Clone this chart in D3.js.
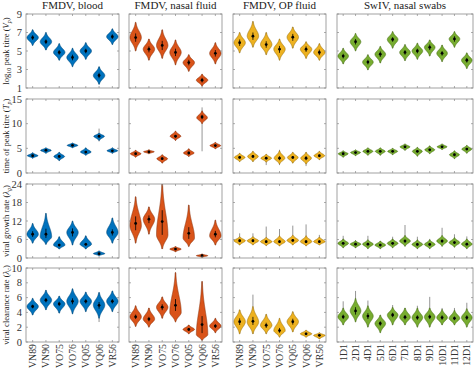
<!DOCTYPE html>
<html><head><meta charset="utf-8">
<script src="https://cdn.jsdelivr.net/npm/d3@7/dist/d3.min.js"></script>
<style>body{margin:0;background:#fff}svg{display:block}text{font-family:"Liberation Serif","Times New Roman",serif}</style>
</head><body><svg id="c" width="474" height="368"></svg>
<script>
// ---- data ----
const groups = ["FMDV, blood", "FMDV, nasal fluid", "FMDV, OP fluid", "SwIV, nasal swabs"];
const catsFMDV = ["VN89","VN90","VO75","VO76","VQ05","VQ06","VR56"];
const catsSwIV = ["1D1","2D1","4D1","5D1","6D1","7D1","8D1","9D1","10D1","11D1","12D1"];
const groupCats = [catsFMDV, catsFMDV, catsFMDV, catsSwIV];
const groupColors = ["#0072BD", "#D95319", "#EDB120", "#77AC30"];

// each violin: [tailLo, bodyLo, q1, median, q3, bodyHi, tailHi, (peak)]
const peakTitre = [
 [[5.6,5.6,6.2,6.45,6.7,7.3,7.3],[5.1,5.1,5.75,6.0,6.25,7.0,7.0],[4.0,4.0,4.6,4.85,5.1,5.8,5.8],[3.3,3.3,4.0,4.3,4.6,5.3,5.3],[4.1,4.1,4.75,5.0,5.25,5.9,5.9],[1.4,1.4,2.05,2.35,2.65,3.3,3.3],[5.7,5.7,6.3,6.55,6.8,7.4,7.4]],
 [[5.0,5.0,6.0,6.45,6.9,8.1,8.1],[4.0,4.0,4.85,5.2,5.5,6.3,6.3],[4.2,4.2,5.1,5.6,6.1,7.3,7.3],[3.5,3.5,4.45,4.85,5.25,6.2,6.2],[2.8,2.8,3.45,3.75,4.05,4.6,4.6],[1.2,1.2,1.6,1.85,2.1,2.5,2.5],[3.6,3.6,4.4,4.75,5.1,5.9,5.9]],
 [[4.8,4.8,5.55,5.9,6.25,7.0,7.0],[5.4,5.4,6.2,6.6,7.0,8.2,8.2],[4.6,4.6,5.35,5.7,6.05,7.0,7.0],[4.0,4.0,4.8,5.2,5.55,6.3,6.3],[5.3,5.3,6.1,6.5,6.85,7.6,7.6],[4.2,4.2,4.9,5.2,5.5,6.0,6.0],[4.0,4.0,4.55,4.85,5.15,5.8,5.8]],
 [[3.6,3.6,4.2,4.45,4.7,5.3,5.3],[5.0,5.0,5.7,6.0,6.3,6.9,6.9],[2.95,2.95,3.55,3.8,4.05,4.6,4.6],[3.7,3.7,4.35,4.65,4.95,5.5,5.5],[5.3,5.3,6.0,6.25,6.5,7.1,7.1],[3.95,3.95,4.6,4.85,5.1,5.7,5.7],[4.1,4.1,4.75,5.0,5.25,5.85,5.85],[4.45,4.45,5.1,5.4,5.7,6.2,6.2],[3.85,3.85,4.5,4.75,5.0,5.65,5.65],[5.4,5.4,6.0,6.3,6.6,7.1,7.1],[3.1,3.1,3.75,4.0,4.25,4.8,4.8]]
];
const peakTime = [
 [[3.0,3.0,3.35,3.5,3.7,4.1,4.1],[4.0,4.0,4.45,4.6,4.75,5.1,5.1],[2.5,2.5,3.1,3.35,3.6,4.2,4.2],[5.1,5.1,5.45,5.6,5.75,6.1,6.1],[3.6,3.6,4.05,4.25,4.45,5.1,5.1],[6.4,6.6,7.2,7.45,7.7,8.1,9.0],[4.0,4.0,4.35,4.5,4.65,5.1,5.1]],
 [[3.2,3.2,3.7,3.9,4.1,4.6,4.6],[3.9,3.9,4.2,4.3,4.4,4.7,4.7],[2.0,2.0,2.65,2.9,3.15,3.7,3.7],[6.6,6.6,7.2,7.45,7.7,8.5,8.5],[3.35,3.35,3.8,4.05,4.3,4.9,4.9],[4.4,10.0,10.9,11.35,11.8,12.6,13.3,11.2],[4.9,4.9,5.35,5.55,5.75,6.2,6.2]],
 [[2.3,2.3,2.9,3.15,3.4,4.0,4.0],[2.3,2.3,3.05,3.35,3.65,4.4,4.4],[1.6,2.2,2.75,3.0,3.25,3.8,3.8],[1.6,1.8,2.6,3.0,3.4,4.5,4.7],[2.0,2.0,2.85,3.15,3.45,4.2,4.2],[1.4,1.8,2.6,3.0,3.4,4.2,4.2],[2.7,2.7,3.3,3.5,3.7,4.4,4.4]],
 [[3.2,3.2,3.7,3.9,4.1,4.5,4.5],[3.5,3.5,4.0,4.15,4.3,4.7,4.7],[3.6,3.6,4.2,4.4,4.6,5.1,5.1],[3.6,3.6,4.2,4.4,4.6,5.1,5.1],[3.7,3.7,4.2,4.4,4.6,5.0,5.0],[4.6,4.6,5.1,5.3,5.5,5.9,5.9],[3.4,3.4,4.15,4.4,4.65,5.2,5.2],[3.9,3.9,4.5,4.7,4.9,5.5,5.5],[4.75,4.75,5.15,5.3,5.45,5.9,5.9],[2.9,2.9,3.5,3.7,3.9,4.5,4.5],[4.0,4.0,4.65,4.85,5.05,5.6,5.6]]
];
const growthRate = [
 [[4.8,4.8,6.8,7.7,8.7,11.2,11.2],[4.4,4.4,6.5,7.7,9.5,14.5,14.5,6.9],[2.9,2.9,3.8,4.2,4.6,6.9,6.9],[4.2,4.2,7.0,8.3,9.6,12.0,12.0],[2.9,2.9,4.0,4.45,4.9,7.2,7.2],[0.75,0.75,1.2,1.4,1.6,2.3,2.3],[4.8,4.8,7.3,8.3,9.3,13.0,13.0]],
 [[4.8,4.8,9.0,11.2,13.5,19.9,19.9,10.5],[7.7,7.7,11.3,12.6,13.8,16.6,16.6],[2.9,2.9,7.5,11.8,15.5,24.5,24.5,7.5],[2.0,2.0,2.6,2.9,3.2,3.7,3.7],[3.7,3.7,6.2,8.0,10.0,17.2,17.2,6.5],[0.2,0.2,0.5,0.75,1.0,1.3,1.3],[4.2,4.2,6.7,7.7,8.8,12.3,12.3,7.2]],
 [[4.2,4.2,5.2,5.6,6.0,6.9,8.0],[4.2,4.2,5.2,5.6,6.0,6.9,8.0],[4.0,4.0,4.9,5.3,5.7,6.7,10.2],[3.9,3.9,4.85,5.3,5.75,7.2,9.4],[4.2,4.2,5.3,5.7,6.1,7.4,10.5],[3.9,3.9,4.85,5.3,5.75,7.2,10.9],[4.2,4.2,4.9,5.3,5.7,6.8,7.5]],
 [[3.3,3.3,4.35,4.75,5.15,6.2,7.2],[3.3,3.3,4.15,4.5,4.85,5.6,5.8],[3.0,3.0,4.1,4.5,4.9,5.9,7.2],[3.0,3.0,3.85,4.2,4.55,5.5,5.5],[3.3,3.3,4.35,4.75,5.15,6.2,6.9],[3.8,3.8,5.0,5.5,6.0,7.3,10.7],[3.0,3.0,4.0,4.4,4.8,5.9,6.9],[3.0,3.0,4.0,4.4,4.8,5.9,6.2],[3.8,3.8,5.0,5.5,6.0,7.3,9.8],[3.5,3.5,4.6,5.0,5.4,6.6,7.7],[3.0,3.0,4.1,4.5,4.9,6.2,7.0]]
];
const clearanceRate = [
 [[3.65,3.65,4.55,4.8,5.05,5.9,5.9],[4.35,4.35,5.35,5.65,5.95,7.0,7.0],[3.9,3.9,4.85,5.15,5.45,6.2,6.2],[3.8,3.8,5.1,5.5,5.9,7.2,7.2],[4.1,4.1,5.2,5.5,5.8,6.75,6.75],[2.7,3.2,4.5,4.95,5.4,6.7,6.7,5.0],[4.1,4.1,5.2,5.5,5.8,6.9,6.9]],
 [[2.1,2.1,3.1,3.4,3.7,4.9,4.9],[2.0,2.0,2.8,3.1,3.4,4.6,4.6],[3.2,3.2,4.3,4.7,5.1,6.1,6.1],[2.7,2.7,4.2,4.95,5.8,9.4,9.4,4.0],[1.1,1.1,1.5,1.7,1.9,2.3,2.3],[0.2,0.2,1.2,2.35,3.5,8.2,8.2,1.0],[1.25,1.25,1.9,2.15,2.4,3.2,3.2]],
 [[1.1,1.1,2.3,2.75,3.2,4.35,4.35],[1.1,1.1,2.3,2.8,3.4,4.8,6.4,2.7],[1.1,1.1,1.9,2.25,2.6,3.75,3.75],[0.65,0.65,1.25,1.55,1.9,3.2,3.2],[1.35,1.35,2.35,2.75,3.15,4.1,4.1],[0.65,0.65,0.95,1.1,1.25,1.6,1.6],[0.4,0.4,0.75,0.9,1.05,1.25,1.25]],
 [[2.3,2.3,3.1,3.4,3.7,4.6,5.5],[2.7,2.7,3.7,4.2,4.7,5.9,6.9],[2.0,2.0,3.1,3.5,3.9,4.9,5.6],[1.25,1.25,2.2,2.5,2.8,3.65,3.65],[2.3,2.3,3.35,3.65,3.95,4.7,5.0],[2.3,2.3,3.05,3.35,3.65,4.6,4.6],[2.0,2.0,3.0,3.3,3.6,4.6,4.9],[2.0,2.0,3.1,3.4,3.7,4.6,6.1],[2.3,2.3,3.0,3.3,3.6,4.4,4.6],[2.3,2.3,2.95,3.2,3.45,4.3,4.6],[2.0,2.0,3.0,3.3,3.6,4.5,5.3]]
];
const rowData = [peakTitre, peakTime, growthRate, clearanceRate];
const rowDomains = [[1,9],[0,15],[0,24],[0,10]];
const rowTicks = [[1,3,5,7,9],[0,5,10,15],[0,6,12,18,24],[0,2,4,6,8,10]];
// y-axis labels: [text, italic symbol, subscript]
const rowLabels = [["peak titre (", "V", "p"],["time of peak titre (", "T", "p"],["viral growth rate (", "λ", "g"],["viral clearance rate (", "λ", "c"]];

// ---- layout ----
const colX = [[26,119],[129,222],[233,326],[337,473]];
const rowY = [[14,88],[99,173],[184,258],[268,342]];
const svg = d3.select("#c");
const frameCol = "#8a8a8a";

groups.forEach((g, gi) => {
  const [x0, x1] = colX[gi];
  svg.append("text").attr("x", (x0 + x1) / 2).attr("y", 9)
    .attr("text-anchor", "middle").attr("font-size", 11).attr("fill", "#222").text(g);
});

rowData.forEach((rd, ri) => {
  const [yTop, yBot] = rowY[ri];
  const y = d3.scaleLinear().domain(rowDomains[ri]).range([yBot, yTop]);
  const lab = svg.append("text").attr("transform", `translate(9,${(yTop + yBot) / 2}) rotate(-90)`)
    .attr("text-anchor", "middle").attr("font-size", 8.6).attr("fill", "#222");
  if (ri === 0) {
    lab.append("tspan").text("log");
    lab.append("tspan").attr("font-size", 6).attr("dy", 2).text("10");
    lab.append("tspan").attr("dy", -2).text(" ");
  }
  lab.append("tspan").text(rowLabels[ri][0]);
  lab.append("tspan").attr("font-style", "italic").text(rowLabels[ri][1]);
  lab.append("tspan").attr("font-size", 6).attr("font-style", "italic").attr("dy", 2).text(rowLabels[ri][2]);
  lab.append("tspan").attr("dy", -2).text(")");

  rd.forEach((gd, gi) => {
    const cats = groupCats[gi];
    const [x0, x1] = colX[gi];
    const x = d3.scalePoint().domain(cats).range([x0, x1]).padding(0.5);
    const step = x.step();
    const color = groupColors[gi];
    const dark = d3.color(color).darker(1.2).formatHex();
    const gp = svg.append("g");
    const clipId = `clip${ri}_${gi}`;
    gp.append("clipPath").attr("id", clipId).append("rect")
      .attr("x", x0).attr("y", yTop).attr("width", x1 - x0).attr("height", yBot - yTop);
    const inner = gp.append("g").attr("clip-path", `url(#${clipId})`);
    const halfW = (ri === 1 ? 0.4 : 0.43) * step;

    gd.forEach((d, i) => {
      const cx = x(cats[i]);
      const [tLo, lo, q1, med, q3, hi, tHi] = d;
      const pk = d.length > 7 ? d[7] : med;
      inner.append("line").attr("x1", cx).attr("x2", cx).attr("y1", y(tLo)).attr("y2", y(tHi))
        .attr("stroke", "#7a7a7a").attr("stroke-width", 0.8);
      const sLo = (pk - lo) / 2.4, sHi = (hi - pk) / 2.4;
      const n = 160, pts = [];
      for (let k = 0; k <= n; k++) {
        const v = lo + (hi - lo) * k / n;
        const z = v < pk ? (v - pk) / sLo : (v - pk) / sHi;
        let w = halfW * Math.exp(-0.5 * z * z);
        if (k === 0 || k === n) w = 0;
        pts.push([v, w]);
      }
      const area = d3.area().y(p => y(p[0])).x0(p => cx - p[1]).x1(p => cx + p[1]).curve(d3.curveLinear);
      inner.append("path").attr("d", area(pts)).attr("fill", color)
        .attr("stroke", dark).attr("stroke-width", 0.6);
      inner.append("line").attr("x1", cx).attr("x2", cx).attr("y1", y(q1)).attr("y2", y(q3))
        .attr("stroke", "#000").attr("stroke-width", 0.8);
      inner.append("circle").attr("cx", cx).attr("cy", y(med)).attr("r", 1.4).attr("fill", "#000");
    });

    gp.append("rect").attr("x", x0).attr("y", yTop).attr("width", x1 - x0).attr("height", yBot - yTop)
      .attr("fill", "none").attr("stroke", frameCol).attr("stroke-width", 0.8);
    cats.forEach(c => {
      const cx = x(c);
      gp.append("line").attr("x1", cx).attr("x2", cx).attr("y1", yTop).attr("y2", yTop + 2).attr("stroke", frameCol).attr("stroke-width", 0.7);
      gp.append("line").attr("x1", cx).attr("x2", cx).attr("y1", yBot).attr("y2", yBot - 2).attr("stroke", frameCol).attr("stroke-width", 0.7);
    });
    rowTicks[ri].forEach(t => {
      gp.append("line").attr("x1", x0).attr("x2", x0 + 2).attr("y1", y(t)).attr("y2", y(t)).attr("stroke", frameCol).attr("stroke-width", 0.7);
      gp.append("line").attr("x1", x1).attr("x2", x1 - 2).attr("y1", y(t)).attr("y2", y(t)).attr("stroke", frameCol).attr("stroke-width", 0.7);
    });
    if (gi === 0) {
      rowTicks[ri].forEach(t => {
        gp.append("text").attr("x", x0 - 4).attr("y", y(t)).attr("dy", "0.35em")
          .attr("text-anchor", "end").attr("font-size", 10.5).attr("fill", "#333").text(t);
      });
    }
    if (ri === 3) {
      cats.forEach(c => {
        gp.append("text").attr("transform", `translate(${x(c)},${yBot + 2}) rotate(-90)`)
          .attr("dy", "0.35em").attr("text-anchor", "end").attr("font-size", 9.8).attr("fill", "#333").text(c);
      });
    }
  });
});
</script></body></html>
